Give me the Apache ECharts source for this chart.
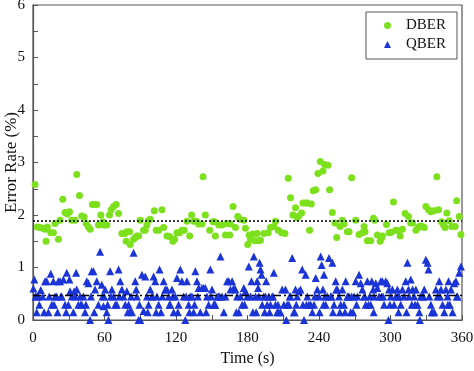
<!DOCTYPE html>
<html><head><meta charset="utf-8">
<script src="https://cdn.jsdelivr.net/npm/echarts@6/dist/echarts.min.js"></script>
<style>html,body{margin:0;padding:0;background:#fff}#c{width:474px;height:371px}</style>
</head><body><div id="c"></div>
<script>
// ---- data ----
const xTicks = [0, 60, 120, 180, 240, 300, 360];
const yTicks = [0, 1, 2, 3, 4, 5, 6];
const dberMean = 1.9;
const qberMean = 0.47;
const dberTime = [1.7,3.6,5.9,8.1,10.1,10.9,12.1,14.9,17.1,18.5,21.3,22.7,25,26.9,28.9,30.6,32.5,35.3,36.7,39,40.9,42.9,44.6,46.5,48,49.9,52.1,53.5,54.9,56.9,58.6,59.7,62,64.2,65.6,67.6,69.8,71.8,74.6,77,78.2,78.8,81,81.6,84.4,85.8,87.2,88.6,90,92.8,94.2,95.6,97,98.4,101.8,103.4,105.4,108.2,109.6,112.4,114.6,117.4,118.8,120.8,123,125,127,129.2,131.5,133.1,134.8,137.1,139,141.8,142.7,144.6,148.3,151.1,152.2,153,155.9,158.7,161.5,162.9,165.1,165.7,167.9,169.9,171.8,173.5,176.9,178.3,180.2,181.4,182.5,184.5,186.1,188.1,188.9,190.9,193.7,197.4,199.3,202.1,203.5,205.8,208.6,211.4,214.2,216.1,218.1,220.3,221.7,223.1,225.4,226.5,228.8,230.2,232.1,233.5,235.2,237.2,239.1,241.1,243.3,244.7,247.5,248.9,251.2,253.4,254.8,257.6,259.6,261,263.8,265.2,267.4,270.8,273.6,276.4,277.8,278.6,280.6,283.4,285.7,286.8,289,291.3,292.5,293.2,296.6,298.8,300.8,302.5,304.4,306.7,308.1,310,312.3,315.1,317,318.5,321.3,323.2,324.9,326.9,328.3,329.7,331.9,333.9,336.7,338.9,340.3,342.8,344.5,345.9,347.3,349.3,351.5,354.3,355.5,357.7,359.1];
const dberValue = [2.58,1.77,1.76,1.75,1.73,1.5,1.77,1.66,1.66,1.84,1.54,1.9,2.3,2.05,2.02,2.06,1.9,1.9,2.77,2.37,1.98,1.96,1.84,1.77,1.73,2.2,2.2,2.2,1.81,2.0,1.87,1.81,1.81,2.0,2.1,2.16,2.2,2.03,1.65,1.65,1.5,1.68,1.68,1.44,1.54,1.57,1.6,1.6,1.9,1.71,1.71,1.81,1.9,1.92,2.08,1.71,1.71,2.1,1.76,1.6,1.59,1.5,1.54,1.66,1.66,1.71,1.71,1.88,1.6,2.0,1.88,1.88,1.83,1.83,2.73,2.0,1.71,1.87,1.87,1.6,1.81,1.81,1.62,1.84,1.62,1.83,2.16,1.76,1.97,1.92,1.9,1.75,1.44,1.62,1.54,1.64,1.51,1.65,1.51,1.52,1.65,1.66,1.76,1.78,1.88,1.71,1.66,1.65,2.7,2.33,2.0,2.14,1.95,1.98,2.04,2.23,2.23,2.23,1.71,2.21,2.46,2.48,2.79,3.02,2.84,2.96,2.95,2.48,2.05,1.85,1.57,1.78,1.9,1.83,1.68,1.68,2.71,1.9,1.63,1.66,1.78,1.68,1.51,1.51,1.94,1.9,1.62,1.5,1.56,1.6,1.82,1.66,1.67,2.25,1.71,1.7,1.6,1.73,2.03,1.97,1.85,1.85,1.71,1.76,1.79,1.78,1.76,2.16,2.1,2.06,2.08,2.73,2.1,1.87,1.81,1.76,2.04,1.89,1.78,1.78,2.27,1.97,1.63];
const qberTime = [0.3,1.1,2.2,3.1,4.5,6.5,8.1,9.3,10.1,11.5,12.9,14.9,17.1,17.7,18.5,19.9,21.3,22.7,24.1,25.5,26.9,27.8,28.3,29.7,30.6,31.1,32.5,33.9,34.5,36.2,36.7,38.1,39.5,40.1,40.9,42.3,43.7,45.1,46.5,47.9,49.3,50.7,52.1,53.5,54.9,56.3,57.7,59.1,59.7,60.5,61.9,63.3,64.7,66.2,67.6,69,70.4,71.8,73.2,74.6,76,77.4,78.8,80.2,81.6,83,84.4,85.8,86.6,87.2,88.6,90,91.4,92.8,94.2,95.6,97,98.4,99.8,101.2,102.6,104,105.4,106.2,107.4,109.6,111,112.4,113.8,115.2,116.6,118,119.4,120.8,122.2,123.6,125,126.4,127.8,129.2,130.6,132,133.4,134.8,136.2,137.6,139,140.4,141.8,143.2,144.6,146,147.4,148.8,150.2,151.6,153,154.5,155.9,157.3,158.7,160.1,162.9,164.3,165.7,167.1,168.5,169.9,171.3,172.7,174.1,175.5,176.9,178.3,179.7,181.1,182.5,183.3,184.5,185.3,186.7,187.3,188.1,188.9,190.1,190.9,191.8,192.3,193.7,195.1,195.7,196.5,197.9,198.5,199.3,200.7,202.1,203.5,204.9,206.3,207.7,209.1,210.5,211.9,212.5,213.3,214.7,216.1,217.5,218.9,220.3,220.9,221.7,223.1,224.5,225.9,226.5,227.4,228.8,230.2,231.6,233,234.4,235.8,237.2,238.6,240,240.5,241.4,242.2,243.3,244.2,245,245.6,247,248.4,249.8,251.2,251.7,252.6,254,254.5,255.4,256.8,258.2,259.6,261,261.8,262.4,263.8,265.2,266.6,267.4,268.6,269.4,270.8,272.2,273.6,275,276.4,277.8,279.2,280.6,281.5,282.6,283.4,284.3,285.4,286.2,287.6,289,290.4,291.8,293.2,293.8,294.6,296,297.4,298.3,298.8,300.2,301.6,303,304.4,305.8,306.7,307.2,308.6,310,311.4,312.8,314.2,315.1,315.6,317,317.9,318.5,319.9,321.3,322.7,324.1,324.6,325.5,326.9,328.3,329.7,331.1,331.9,332.5,333.9,335.3,336.7,338.1,339.5,340.9,342.3,343.7,345.1,346.5,347.9,348.7,349.8,350.7,352.1,353.5,354.9,356.3,357.7,359.1,
  2.8,5.3,13.6,15.8,20.6,23.4,35.4,44.4,48.6,51.4,58.4,62.6,65.4,72.5,79.5,82.3,89.3,96.3,100.5,103.3,108.5,114.5,117.3,121.5,128.5,131.3,135.5,138.3,145.3,149.5,152.3,156.6,161.5,170.6,177.6,189.5,194.4,201.4,205.6,215.4,219.6,229.5,236.5,243.8,250.5,257.5,264.5,271.5,278.5,285.9,292.5,299.5,306.2,313.5,320.6,327.6,334.6,341.6,348.2,355.6];
const qberValue = [0.6,0.77,0.45,0.15,0.45,0.57,0.45,0.15,0.74,0.74,0.15,0.88,0.74,0.29,0.45,0.45,0.74,0.74,0.45,0.77,0.29,0.15,0.9,0.29,0.77,0.55,0.45,0.15,0.55,0.9,0.58,0.29,0.45,0.29,0.29,0.45,0.15,0.74,0.7,0.0,0.93,0.93,0.58,0.74,0.29,1.3,0.67,0.26,0.45,0.58,0.15,0.0,0.93,0.58,0.45,0.29,0.29,0.96,0.74,0.58,0.45,0.29,0.55,0.29,0.17,0.15,1.28,0.74,0.58,0.45,0.0,0.0,0.86,0.17,0.83,0.45,0.29,0.58,0.45,0.83,0.74,0.45,0.29,0.96,0.15,0.74,0.58,0.58,0.45,0.29,0.58,0.15,0.45,0.8,0.29,0.96,0.74,0.45,0.0,0.74,0.29,0.45,0.45,0.15,0.93,0.74,0.61,0.15,0.61,0.61,0.61,0.45,0.29,0.96,0.58,0.29,0.29,0.45,0.45,1.21,0.45,0.15,0.74,0.74,0.58,0.74,0.61,0.58,0.45,0.15,0.45,0.29,0.61,0.55,0.45,1.02,0.45,0.74,0.15,1.21,0.45,0.15,0.74,0.61,1.09,0.96,0.86,0.29,0.45,0.45,0.74,0.29,0.45,0.15,0.29,0.45,0.9,0.29,0.15,0.15,0.15,0.58,0.29,0.58,0.0,0.29,0.29,0.45,1.18,0.15,0.58,0.29,0.45,0.55,0.58,0.96,0.29,0.0,0.86,0.45,0.29,0.29,0.15,0.29,0.8,0.58,0.45,0.15,1.21,1.05,0.58,0.86,0.45,0.29,0.45,1.18,0.45,1.09,0.15,0.29,0.74,0.58,0.58,0.45,0.29,0.58,0.29,0.15,0.74,0.45,0.45,0.15,0.45,0.15,0.45,0.74,0.45,0.86,0.7,0.58,0.45,0.29,0.74,0.29,0.45,0.29,0.74,0.58,0.45,0.7,0.61,0.45,0.74,0.74,0.45,0.29,0.74,0.7,0.0,0.58,0.45,0.58,0.29,0.45,0.58,0.15,0.45,0.29,0.58,0.45,0.74,1.09,0.58,0.45,0.77,0.29,0.58,0.45,0.58,0.29,0.15,0.0,0.45,0.45,0.58,1.15,1.09,0.96,0.45,0.29,0.15,0.15,0.58,0.45,0.74,0.58,0.29,0.15,0.58,0.45,0.74,0.29,0.58,0.15,0.7,0.74,0.45,0.9,1.02,
  0.45,0.29,0.45,0.29,0.15,0.45,0.45,0.29,0.45,0.15,0.45,0.29,0.45,0.45,0.15,0.45,0.29,0.15,0.45,0.15,0.45,0.29,0.45,0.15,0.45,0.15,0.29,0.45,0.15,0.45,0.29,0.45,0.45,0.15,0.29,0.45,0.15,0.45,0.29,0.45,0.15,0.29,0.45,0.29,0.45,0.15,0.45,0.29,0.45,0.15,0.45,0.29,0.45,0.15,0.29,0.45,0.15,0.45,0.29,0.45];
// ---- chart ----
const dber = dberTime.map((t, i) => [t, dberValue[i]]);
const qber = qberTime.map((t, i) => [t, qberValue[i]]);
const FONT = '"Liberation Serif", "Times New Roman", serif';
const chart = echarts.init(document.getElementById('c'), null, {renderer: 'canvas'});
chart.setOption({
  animation: false,
  backgroundColor: '#fff',
  grid: {left: 33, right: 12, top: 5, bottom: 51, containLabel: false, outerBoundsMode: 'none',
    show: true, borderColor: '#555', borderWidth: 1.2, backgroundColor: 'transparent'},
  legend: {
    left: 366, top: 12, orient: 'vertical', itemGap: 4, itemWidth: 7, itemHeight: 7,
    borderColor: '#555', borderWidth: 1, padding: [6, 11, 7, 18],
    textStyle: {fontFamily: FONT, fontSize: 15, lineHeight: 15, color: '#111', padding: [0, 0, 0, 10]},
    data: [{name: 'DBER', icon: 'circle'}, {name: 'QBER', icon: 'triangle'}]
  },
  xAxis: {
    type: 'value', min: xTicks[0], max: xTicks[xTicks.length - 1], interval: 60,
    name: 'Time (s)', nameLocation: 'middle', nameGap: 31, nameMoveOverlap: false,
    nameTextStyle: {fontFamily: FONT, fontSize: 16, color: '#111'},
    axisLine: {show: true, lineStyle: {color: '#555', width: 1.2}},
    axisTick: {show: true, inside: true, length: 5, lineStyle: {color: '#555'}},
    minorTick: {show: true, splitNumber: 2, length: 5, lineStyle: {color: '#555'}},
    splitLine: {show: false},
    axisLabel: {fontFamily: FONT, fontSize: 15, color: '#111', margin: 11,
      formatter: v => xTicks.includes(v) ? String(v) : ''}
  },
  yAxis: {
    type: 'value', min: yTicks[0], max: yTicks[yTicks.length - 1], interval: 1,
    name: 'Error Rate (%)', nameLocation: 'middle', nameGap: 13, nameMoveOverlap: false,
    nameTextStyle: {fontFamily: FONT, fontSize: 17, color: '#111'},
    axisLine: {show: true, lineStyle: {color: '#555', width: 1.2}},
    axisTick: {show: true, inside: true, length: 5, lineStyle: {color: '#555'}},
    minorTick: {show: true, splitNumber: 2, length: 5, lineStyle: {color: '#555'}},
    splitLine: {show: false},
    axisLabel: {fontFamily: FONT, fontSize: 15, color: '#111', margin: 8,
      formatter: v => yTicks.includes(v) ? String(v) : ''}
  },
  series: [
    {
      name: 'DBER', type: 'scatter', data: dber, symbol: 'circle', symbolSize: 7,
      itemStyle: {color: '#7de01c', opacity: 1}, z: 3,
      markLine: {silent: true, symbol: 'none', label: {show: false},
        lineStyle: {color: '#000', type: [2, 2], width: 1.5},
        data: [{yAxis: dberMean}]}
    },
    {
      name: 'QBER', type: 'scatter', data: qber, symbol: 'triangle', symbolSize: 8,
      itemStyle: {color: '#1a34d8', opacity: 1}, z: 2,
      markLine: {silent: true, symbol: 'none', label: {show: false},
        lineStyle: {color: '#000', type: [8, 3, 2, 3], width: 1.3},
        data: [{yAxis: qberMean}]}
    }
  ]
});
</script></body></html>
